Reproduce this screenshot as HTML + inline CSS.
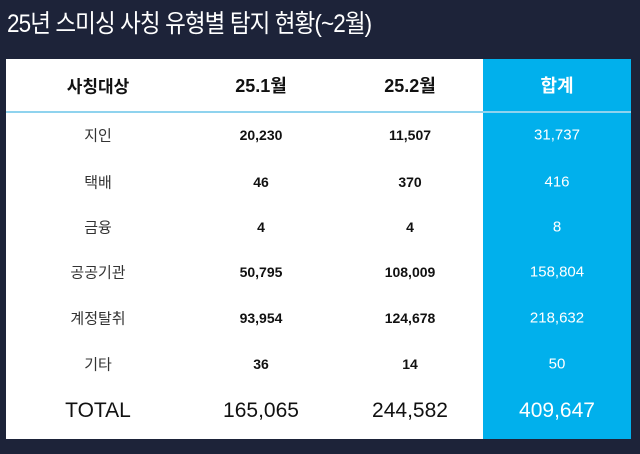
<!DOCTYPE html>
<html><head><meta charset="utf-8"><style>
body{margin:0;width:640px;height:454px;background:#1d2339;overflow:hidden;position:relative;font-family:"Liberation Sans","Noto Sans CJK KR",sans-serif}
#title{position:absolute;left:7px;top:4px;color:#fff;font-size:25px;letter-spacing:-1px;transform:scaleX(0.9);transform-origin:left}
#tbl{position:absolute;left:6px;top:59px;width:625px;height:380px;background:#fff}
#blue{position:absolute;left:483px;top:59px;width:148px;height:380px;background:#01b0ec}
#hline{position:absolute;left:6px;top:111px;width:625px;height:2px;background:#8fd3ee}
.c{position:absolute;transform:translate(-50%,-50%);white-space:nowrap;color:#111}
</style></head><body>
<div id="title">25년 스미싱 사칭 유형별 탐지 현황(~2월)</div>
<div id="tbl"></div>
<div id="blue"></div>
<div id="hline"></div>
<div id="cells"></div>
<script>
const headers=["사칭대상","25.1월","25.2월","합계"];
const categories=["지인","택배","금융","공공기관","계정탈취","기타"];
const jan=[20230,46,4,50795,93954,36];
const feb=[11507,370,4,108009,124678,14];
const xs=[98,261,410,557];
const rowY=[135,182,227,272,318,364];
const root=document.getElementById('cells');
function fmt(v){return v.toLocaleString('en-US');}
function cell(text,x,y,size,weight,color,name){
 const d=document.createElement('div');
 d.className='c';
 
 
 d.style.left=x+'px';d.style.top=y+'px';d.style.fontSize=size+'px';d.style.fontWeight=weight;d.style.color=color;
 d.textContent=text;root.appendChild(d);
}
headers.forEach((h,i)=>cell(h,xs[i],85,i==0?17:18,'bold',i==3?'#fff':'#111','header-'+i));
categories.forEach((c,i)=>{
 cell(c,xs[0],rowY[i],15,'normal','#333','row-label-'+i);
 cell(fmt(jan[i]),xs[1],rowY[i],14,'bold','#111','jan-value-'+i);
 cell(fmt(feb[i]),xs[2],rowY[i],14,'bold','#111','feb-value-'+i);
 cell(fmt(jan[i]+feb[i]),xs[3],rowY[i],15,'normal','#fff','sum-value-'+i);
});
const tj=jan.reduce((a,b)=>a+b,0),tf=feb.reduce((a,b)=>a+b,0);
cell('TOTAL',xs[0],411,21,'normal','#111','total-label');
cell(fmt(tj),xs[1],411,21,'normal','#111','total-jan');
cell(fmt(tf),xs[2],411,21,'normal','#111','total-feb');
cell(fmt(tj+tf),xs[3],411,21,'normal','#fff','total-sum');
</script>
</body></html>
